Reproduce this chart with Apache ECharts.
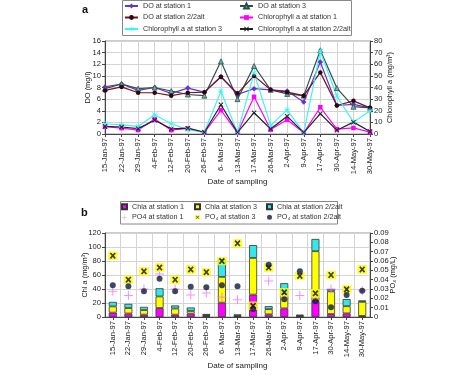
<!DOCTYPE html>
<html><head><meta charset="utf-8">
<script src="https://cdn.jsdelivr.net/npm/echarts@6/dist/echarts.min.js"></script>
<style>html,body{margin:0;padding:0;background:#fff}#c{width:474px;height:375px}</style>
</head><body><div id="c"></div>
<script>
const categories = ['15-Jan-97','22-Jan-97','29-Jan-97','4-Feb-97','12-Feb-97','20-Feb-97','26-Feb-97','6- Mar-97','13-Mar-97','17-Mar-97','26-Mar-97','2-Apr-97','9-Apr-97','17-Apr-97','30-Apr-97','14-May-97','30-May-97'];
const doSt1 = [8.1, 8.6, 7.5, 8.0, 7.0, 7.9, 7.2, 9.9, 6.8, 7.8, 7.6, 7.4, 5.5, 12.4, 4.9, 5.1, 4.5];
const doSt3 = [7.8, 8.6, 7.8, 8.0, 7.4, 6.8, 6.6, 12.5, 6.0, 11.7, 7.6, 6.9, 6.6, 14.4, 7.9, 4.7, 4.5];
const doSt2 = [7.5, 8.1, 7.1, 7.1, 6.6, 7.1, 7.2, 9.8, 7.0, 10.0, 7.6, 7.2, 6.6, 10.6, 4.9, 5.7, 4.5];
const chlSt1 = [6.3, 5.0, 3.4, 12.8, 3.3, 4.8, 1.2, 20.5, 1.0, 32, 3.8, 12.3, 1.0, 23, 4.2, 5.2, 1.6];
const chlSt3 = [8.8, 7.8, 6.5, 16.5, 8.8, 3.8, 1.6, 36.8, 1.2, 52.4, 7.4, 20.8, 1.0, 71, 32.5, 10.2, 20];
const chlSt2 = [6.5, 6.0, 4.6, 11.8, 4.4, 5.0, 1.5, 25.2, 1.4, 18.3, 4.3, 15.2, 1.2, 17.5, 3.2, 10.2, 2.2];
const po4St1 = [0.0275, 0.023, 0.030, 0.046, 0.030, 0.0236, 0.0257, 0.0214, 0.0186, 0.011, 0.0386, 0.021, 0.023, 0.020, 0.030, 0.028, 0.028];
const po4St3 = [0.0657, 0.040, 0.049, 0.053, 0.040, 0.051, 0.048, 0.060, 0.079, 0.012, 0.053, 0.0264, 0.044, 0.0254, 0.045, 0.0296, 0.051];
const po4St2 = [0.034, 0.033, 0.0275, 0.041, 0.0275, 0.0325, 0.032, 0.034, 0.033, 0.0086, 0.056, 0.019, 0.049, 0.0168, 0.0104, 0.0236, 0.028];
const doTicks = {min: 0, max: 16, interval: 2};
const chlTicks = {min: 0, max: 80, interval: 10};
const chlBarTicks = {min: 0, max: 120, interval: 20};
const po4Ticks = {min: 0, max: 0.09, interval: 0.01};

const FONT = 'Liberation Sans, Arial, sans-serif';
const TXT = '#222';
const asterisk = 'path://M4,0H5V9H4Z M0,4H9V5H0Z M0.6,1.3L1.3,0.6L8.4,7.7L7.7,8.4Z M7.7,0.6L8.4,1.3L1.3,8.4L0.6,7.7Z';
const xMark = 'path://M0.5,1.6L1.6,0.5L8.5,7.4L7.4,8.5Z M7.4,0.5L8.5,1.6L1.6,8.5L0.5,7.4Z';
const plusMark = 'path://M4,0H5V9H4Z M0,4H9V5H0Z';
const xBoxSvg = "<svg xmlns='http://www.w3.org/2000/svg' width='10' height='9'><rect width='10' height='9' fill='#ffff00'/><path d='M2.6 1.8L7.4 7.2M7.4 1.8L2.6 7.2' stroke='#111' stroke-width='1.7'/></svg>";
const xBox = 'image://data:image/svg+xml;utf8,' + encodeURIComponent(xBoxSvg);

function yAx(grid, ticks, pos, name, gap, fmt) {
  return Object.assign({
    type: 'value', gridIndex: grid, position: pos, name: name, nameLocation: 'middle', nameGap: gap,
    nameMoveOverlap: false,
    nameTextStyle: {fontSize: 7.4, color: TXT, fontFamily: FONT},
    axisLine: {show: true, lineStyle: {color: '#444', width: 1}},
    axisTick: {show: true, length: 3, lineStyle: {color: '#444'}},
    axisLabel: {fontSize: 7.6, color: TXT, margin: 4, fontFamily: FONT, formatter: fmt},
    splitLine: {show: pos === 'left', lineStyle: {color: '#d4d4d4', width: 1}}
  }, ticks);
}
function xAx(grid, gapB, nameGap) {
  return {
    type: 'category', gridIndex: grid, data: categories, boundaryGap: gapB,
    name: 'Date of sampling', nameLocation: 'middle', nameGap: nameGap, nameMoveOverlap: false,
    nameTextStyle: {fontSize: 8, color: TXT, fontFamily: FONT},
    axisLine: {show: true, lineStyle: {color: '#444'}},
    axisTick: {show: true, length: 3, alignWithLabel: true, lineStyle: {color: '#444'}},
    axisLabel: {rotate: 90, interval: 0, fontSize: 7.6, color: TXT, margin: 4, fontFamily: FONT},
    splitLine: {show: true, interval: 0, lineStyle: {color: '#d4d4d4', width: 1}}
  };
}
function lineS(name, data, yi, color, symbol, size, extra) {
  return Object.assign({
    name: name, type: 'line', xAxisIndex: 0, yAxisIndex: yi, data: data,
    symbol: symbol, symbolSize: size, showAllSymbol: true,
    lineStyle: {color: color, width: 1.2}, itemStyle: {color: color}
  }, extra || {});
}
const legendBase = {orient: 'vertical', selectedMode: false, padding: 0, itemHeight: 6,
  textStyle: {fontSize: 7.2, color: '#333', fontFamily: FONT, lineHeight: 8}};

const option = {
  animation: false,
  textStyle: {fontFamily: FONT},
  grid: [
    {left: 105, top: 41, width: 265, height: 93, show: true, borderColor: '#999', borderWidth: 1, outerBoundsMode: 'none'},
    {left: 105, top: 233, width: 265, height: 84, show: true, borderColor: '#999', borderWidth: 1, outerBoundsMode: 'none'}
  ],
  xAxis: [xAx(0, false, 44), xAx(1, true, 45)],
  yAxis: [
    yAx(0, doTicks, 'left', 'DO (mg/l)', 14),
    yAx(0, chlTicks, 'right', 'Chlorophyll a (mg/m³)', 16),
    yAx(1, chlBarTicks, 'left', 'Chl a (mg/m³)', 17),
    yAx(1, po4Ticks, 'right', 'PO₄ (mg/L)', 19, v => v === 0 ? '0' : v.toFixed(2))
  ],
  legend: [
    Object.assign({}, legendBase, {left: 124, top: 2, itemWidth: 13, itemGap: 3.5,
      data: ['DO at station 1', 'DO at station 2/2alt', 'Chlorophyll a at station 3']}),
    Object.assign({}, legendBase, {left: 239, top: 2, itemWidth: 13, itemGap: 3.5,
      data: ['DO at station 3', 'Chlorophyll a at station 1', 'Chlorophyll a at station 2/2alt']}),
    Object.assign({}, legendBase, {left: 121, top: 202.7, itemWidth: 5, itemHeight: 5, itemGap: 2.6,
      data: [{name: 'Chla at station 1', icon: 'rect'}, 'PO4 at station 1']}),
    Object.assign({}, legendBase, {left: 194, top: 202.7, itemWidth: 5, itemHeight: 5, itemGap: 2.6,
      data: [{name: 'Chla at station 3', icon: 'rect'}, 'PO₄ at station 3']}),
    Object.assign({}, legendBase, {left: 266, top: 202.7, itemWidth: 5, itemHeight: 5, itemGap: 2.6,
      data: [{name: 'Chla at station 2/2alt', icon: 'rect'}, 'PO₄ at station 2/2alt']})
  ],
  graphic: [
    {type: 'rect', shape: {x: 122.5, y: 0.5, width: 229, height: 35}, style: {fill: 'none', stroke: '#888', lineWidth: 1}, silent: true, z: -1},
    {type: 'rect', shape: {x: 120.5, y: 201.5, width: 217, height: 22.5}, style: {fill: 'none', stroke: '#888', lineWidth: 1}, silent: true, z: -1},
    {type: 'text', left: 82, top: 4, style: {text: 'a', font: 'bold 11px ' + FONT, fill: '#111'}},
    {type: 'text', left: 81, top: 207, style: {text: 'b', font: 'bold 11px ' + FONT, fill: '#111'}}
  ],
  series: [
    lineS('DO at station 1', doSt1, 0, '#6633cc', 'diamond', 5.5),
    lineS('DO at station 3', doSt3, 0, '#2f4f4f', 'triangle', 5, {itemStyle: {color: '#5fb8a8', borderColor: '#2f4f4f', borderWidth: 0.8}}),
    lineS('DO at station 2/2alt', doSt2, 0, '#7a1024', 'circle', 4.5, {itemStyle: {color: '#2a0810'}}),
    lineS('Chlorophyll a at station 1', chlSt1, 1, '#ff00ff', 'rect', 4.5),
    lineS('Chlorophyll a at station 3', chlSt3, 1, '#3cf4f4', asterisk, 6),
    lineS('Chlorophyll a at station 2/2alt', chlSt2, 1, '#222222', xMark, 5),
    {name: 'Chla at station 1', type: 'bar', xAxisIndex: 1, yAxisIndex: 2, stack: 'chl', data: chlSt1, barWidth: 8,
      itemStyle: {color: '#ff00ff', borderColor: '#333', borderWidth: 0.8}},
    {name: 'Chla at station 3', type: 'bar', xAxisIndex: 1, yAxisIndex: 2, stack: 'chl', data: chlSt3, barWidth: 8,
      itemStyle: {color: '#ffff00', borderColor: '#333', borderWidth: 0.8}},
    {name: 'Chla at station 2/2alt', type: 'bar', xAxisIndex: 1, yAxisIndex: 2, stack: 'chl', data: chlSt2, barWidth: 8,
      itemStyle: {color: '#33e8e8', borderColor: '#333', borderWidth: 0.8}},
    {name: 'PO4 at station 1', type: 'scatter', xAxisIndex: 1, yAxisIndex: 3, data: po4St1, symbol: plusMark, symbolSize: 9,
      itemStyle: {color: '#ee77ee'}},
    {name: 'PO₄ at station 3', type: 'scatter', xAxisIndex: 1, yAxisIndex: 3, data: po4St3, symbol: xBox, symbolSize: [10, 9]},
    {name: 'PO₄ at station 2/2alt', type: 'scatter', xAxisIndex: 1, yAxisIndex: 3, data: po4St2, symbol: 'circle', symbolSize: 6,
      itemStyle: {color: '#0c1c3c'}}
  ]
};
const chart = echarts.init(document.getElementById('c'));
chart.setOption(option);
</script>
</body></html>
